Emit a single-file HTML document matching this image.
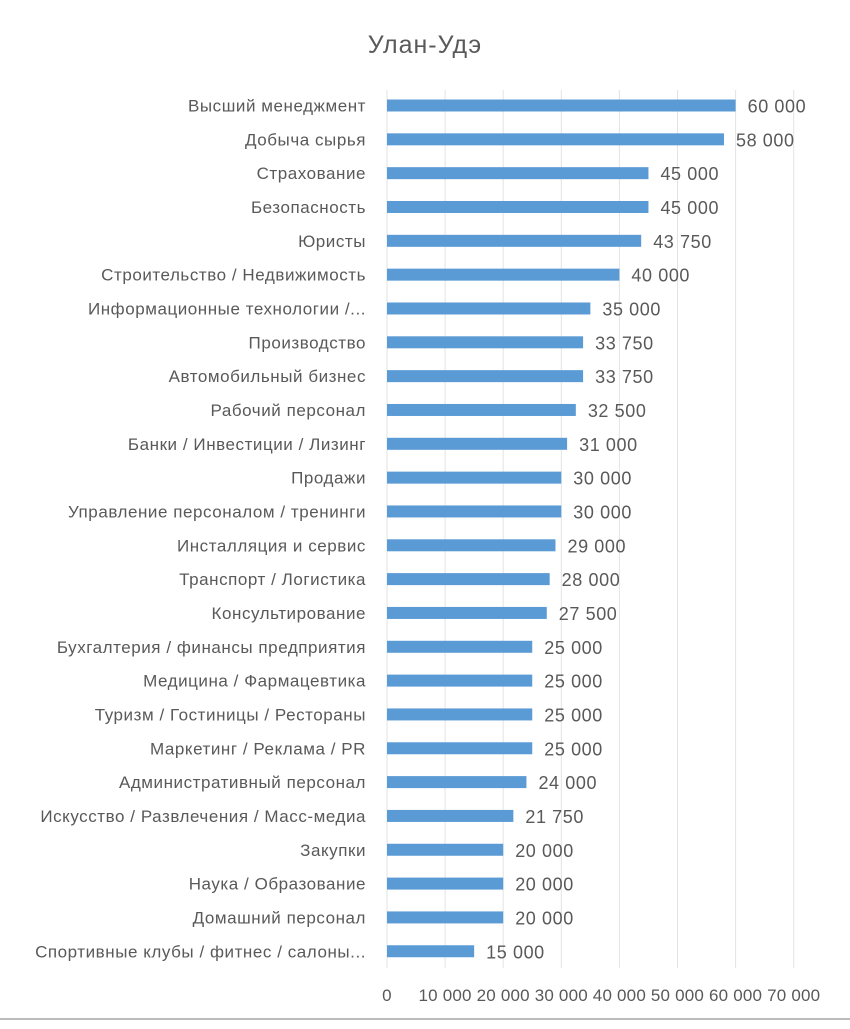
<!DOCTYPE html>
<html><head><meta charset="utf-8"><style>
body{margin:0;background:#fff}
svg text{font-family:"Liberation Sans","DejaVu Sans",sans-serif;fill:#595959}
</style></head><body>
<svg width="850" height="1024" xmlns="http://www.w3.org/2000/svg">
<rect width="850" height="1024" fill="#fff"/>
<line x1="0" y1="1019" x2="850" y2="1019" stroke="#bbb" stroke-width="2"/>
<text x="425" y="53" font-size="25" letter-spacing="1" text-anchor="middle">Улан-Удэ</text>
<g id="g"></g>
<script>
var d=[["Высший менеджмент",60000],["Добыча сырья",58000],["Страхование",45000],["Безопасность",45000],["Юристы",43750],["Строительство / Недвижимость",40000],["Информационные технологии /...",35000],["Производство",33750],["Автомобильный бизнес",33750],["Рабочий персонал",32500],["Банки / Инвестиции / Лизинг",31000],["Продажи",30000],["Управление персоналом / тренинги",30000],["Инсталляция и сервис",29000],["Транспорт / Логистика",28000],["Консультирование",27500],["Бухгалтерия / финансы предприятия",25000],["Медицина / Фармацевтика",25000],["Туризм / Гостиницы / Рестораны",25000],["Маркетинг / Реклама / PR",25000],["Административный персонал",24000],["Искусство / Развлечения / Масс-медиа",21750],["Закупки",20000],["Наука / Образование",20000],["Домашний персонал",20000],["Спортивные клубы / фитнес / салоны...",15000]];
var ns="http://www.w3.org/2000/svg",g=document.getElementById("g"),x0=387,s=58.1/10000;
function el(t,a,txt){var e=document.createElementNS(ns,t);for(var k in a)e.setAttribute(k,a[k]);if(txt!=null)e.textContent=txt;g.appendChild(e);return e;}
for(var i=0;i<=7;i++){var x=x0+i*58.1;el("line",{x1:x,y1:90,x2:x,y2:968,stroke:"#e3e3e3","stroke-width":1});
el("text",{x:x,y:1001,"font-size":17,"text-anchor":"middle","letter-spacing":"0.2"},i==0?"0":(i*10)+" 000");}
d.forEach(function(r,i){var cy=105.5+i*33.83,w=r[1]*s;
el("rect",{x:x0,y:cy-6,width:w,height:12,fill:"#5b9bd5"});
el("text",{x:366,y:cy+6,"font-size":17,"text-anchor":"end","letter-spacing":"0.55"},r[0]);
var v=String(r[1]);v=v.slice(0,v.length-3)+" "+v.slice(-3);
el("text",{x:x0+w+12,y:cy+7,"font-size":18,"letter-spacing":"0.6"},v);});
</script>
</svg>
</body></html>
